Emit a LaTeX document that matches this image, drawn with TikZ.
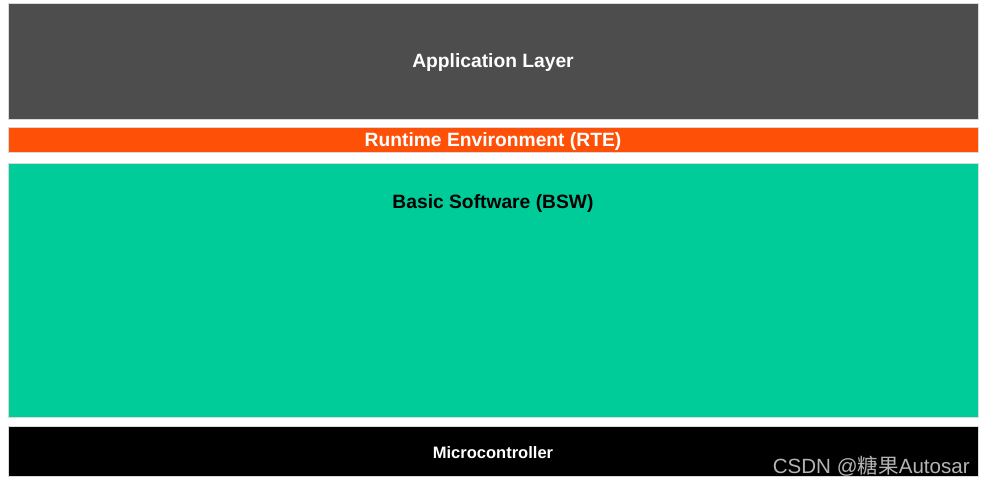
\documentclass[tikz,border=0pt]{standalone}
\usepackage{fontspec}
\setmainfont{Liberation Sans}
\newfontfamily\cjk{Noto Sans CJK SC}
\usepackage{tikz}
\usepackage{xcolor}
\usetikzlibrary{positioning,calc}
\definecolor{cApp}{HTML}{4D4D4D}
\definecolor{cRte}{HTML}{FF5008}
\definecolor{cBsw}{HTML}{00CC99}
\definecolor{cMcu}{HTML}{000000}
\definecolor{cMark}{HTML}{B4B4B4}
\tikzset{
  layer/.style ={rectangle,inner sep=0pt,outer sep=0pt,minimum width=19.4cm,
                 draw=black!15,line width=0.3pt},
  ttl/.style   ={font=\bfseries\fontsize{10.95}{13}\selectfont,yshift=-0.04cm},
  wmark/.style ={font=\fontsize{11.7}{14}\selectfont,text=cMark,inner sep=0pt},
}
\begin{document}
\begin{tikzpicture}[node distance=2mm]
\useasboundingbox (0,0) rectangle (19.76,-9.72);
\node[layer,fill=cApp,minimum height=2.32cm,anchor=north west] (app) at (0.16,-0.06) {};
\node[layer,fill=cRte,minimum height=0.50cm,below=0.16cm of app] (rte) {};
\node[layer,fill=cBsw,minimum height=5.08cm,below=0.22cm of rte] (bsw) {};
\node[layer,fill=cMcu,minimum height=1.00cm,below=0.18cm of bsw] (mcu) {};
% layer titles
\node[ttl,text=white] (apptxt) at (app) {Application Layer};
\node[ttl,text=white] (rtetxt) at (rte) {Runtime Environment (RTE)};
\node[ttl,text=black] (bswtxt) at ([yshift=-0.78cm]bsw.north) {Basic Software (BSW)};
\node[ttl,text=white,font=\bfseries\fontsize{9.4}{11}\selectfont] (mcutxt) at (mcu) {Microcontroller};
\node[wmark,anchor=east] (mark) at (19.40,-9.32) {CSDN @{\cjk 糖果}Autosar};
\end{tikzpicture}
\end{document}
